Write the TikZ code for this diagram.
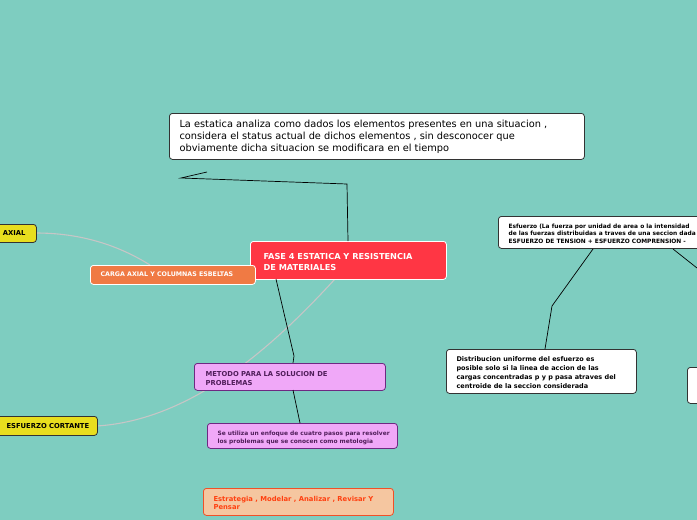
\documentclass[tikz,border=0pt]{standalone}
\usepackage{fontspec}
\setmainfont{DejaVu Sans}
\begin{document}
\begin{tikzpicture}[x=1pt,y=-1pt,
 box/.style={draw,rounded corners=3pt,line width=0.8pt,anchor=north west,align=left,inner sep=0pt,font=\bfseries},
 link/.style={line width=0.7pt},
 glink/.style={line width=1.1pt,draw=gray!45}]
\definecolor{bg}{HTML}{7ECDC0}
\fill[bg] (0,0) rectangle (697,520);
\useasboundingbox (0,0) rectangle (697,520);
% gray curves
\coordinate (ga) at (150,265);
\coordinate (gb) at (36,233);
\draw[glink] (ga) .. controls (110,240) and (70,233) .. (gb);
\coordinate (gc) at (335,279);
\coordinate (gd) at (97,426);
\draw[glink] (gc) .. controls (270,350) and (190,420) .. (gd);
% boxes
\node[box,fill=white,draw=black!80,minimum width=415pt,minimum height=46pt] (top) at (169,113) {};
\node[anchor=north west,align=left,font=\fontsize{9.8}{11.7}\selectfont] (toptxt) at (176,117) {La estatica analiza como dados los elementos presentes en una situacion ,\\considera el status actual de dichos elementos , sin desconocer que\\obviamente dicha situacion se modificara en el tiempo};
\node[box,fill={rgb,255:red,255;green,54;blue,68},draw=white,minimum width=196pt,minimum height=38pt] (c) at (250,241) {};
\node[anchor=north west,align=left,text=white,font=\bfseries\fontsize{8.2}{10.5}\selectfont] (ct) at (260,250) {FASE 4 ESTATICA Y RESISTENCIA\\DE MATERIALES};
\node[box,fill=white,draw=black!80,minimum width=210pt,minimum height=32pt] (es) at (498,216) {};
\node[anchor=north west,align=left,font=\bfseries\fontsize{5.9}{7.4}\selectfont] (est) at (505,220.5) {Esfuerzo (La fuerza por unidad de area o la intensidad\\de las fuerzas distribuidas a traves de una seccion dada\\ESFUERZO DE TENSION + ESFUERZO COMPRENSION -};
\node[box,fill=white,draw=black!80,minimum width=190pt,minimum height=44pt] (di) at (446,349) {};
\node[anchor=north west,align=left,font=\bfseries\fontsize{6.5}{8.7}\selectfont] (dit) at (453,353.5) {Distribucion uniforme del esfuerzo es\\posible solo si la linea de accion de las\\cargas concentradas p y p pasa atraves del\\centroide de la seccion considerada};
\node[box,fill=white,draw=black!80,minimum width=30pt,minimum height=36pt] (rr) at (687,367) {};
\node[box,fill={rgb,255:red,240;green,122;blue,68},draw=white,minimum width=165pt,minimum height=19pt] (ca) at (90,265) {};
\node[anchor=west,text=white,font=\bfseries\fontsize{6.3}{7}\selectfont] (cat) at (97,274.5) {CARGA AXIAL Y COLUMNAS ESBELTAS};
\node[box,fill={rgb,255:red,232;green,222;blue,30},draw=black!80,minimum width=47pt,minimum height=18pt] (ax) at (-11,224) {};
\node[anchor=east,font=\bfseries\fontsize{6.8}{7}\selectfont] (axt) at (29,233) {DO AXIAL};
\node[box,fill={rgb,255:red,232;green,222;blue,30},draw=black!80,minimum width=108pt,minimum height=19pt] (co) at (-11,416) {};
\node[anchor=west,font=\bfseries\fontsize{6.8}{7}\selectfont] (cot) at (3,426) {ESFUERZO CORTANTE};
\node[box,fill={rgb,255:red,240;green,168;blue,248},draw={rgb,255:red,110;green,40;blue,130},minimum width=191pt,minimum height=27pt] (me) at (194,363) {};
\node[anchor=north west,align=left,text={rgb,255:red,80;green,30;blue,90},font=\bfseries\fontsize{6.8}{9}\selectfont] (met) at (202,367.5) {METODO PARA LA SOLUCION DE\\PROBLEMAS};
\node[box,fill={rgb,255:red,240;green,168;blue,248},draw={rgb,255:red,110;green,40;blue,130},minimum width=190pt,minimum height=25pt] (se) at (207,423) {};
\node[anchor=north west,align=left,text={rgb,255:red,80;green,30;blue,90},font=\bfseries\fontsize{5.9}{8}\selectfont] (set) at (214,427) {Se utiliza un enfoque de cuatro pasos para resolver\\los problemas que se conocen como metologia};
\node[box,fill={rgb,255:red,245;green,198;blue,160},draw={rgb,255:red,240;green,80;blue,40},minimum width=190pt,minimum height=27pt] (st) at (203,488) {};
\node[anchor=north west,align=left,text={rgb,255:red,255;green,64;blue,16},font=\bfseries\fontsize{6.8}{8.6}\selectfont] (stt) at (210,492.5) {Estrategia , Modelar , Analizar , Revisar Y\\Pensar};
% black connectors
\coordinate (t1) at (347,184); \coordinate (t2) at (181,178); \coordinate (t3) at (207,172);
\draw[link] (348,241) -- (t1) -- (t2) -- (t3);
\coordinate (m1) at (294,356);
\draw[link] (276,279) -- (m1) -- (293,363);
\draw[link] (293,390) -- (300,423);
\coordinate (e1) at (552,306);
\draw[link] (593,249) -- (e1) -- (545,349);
\draw[link] (673,249) -- (697,268);
\end{tikzpicture}
\end{document}
